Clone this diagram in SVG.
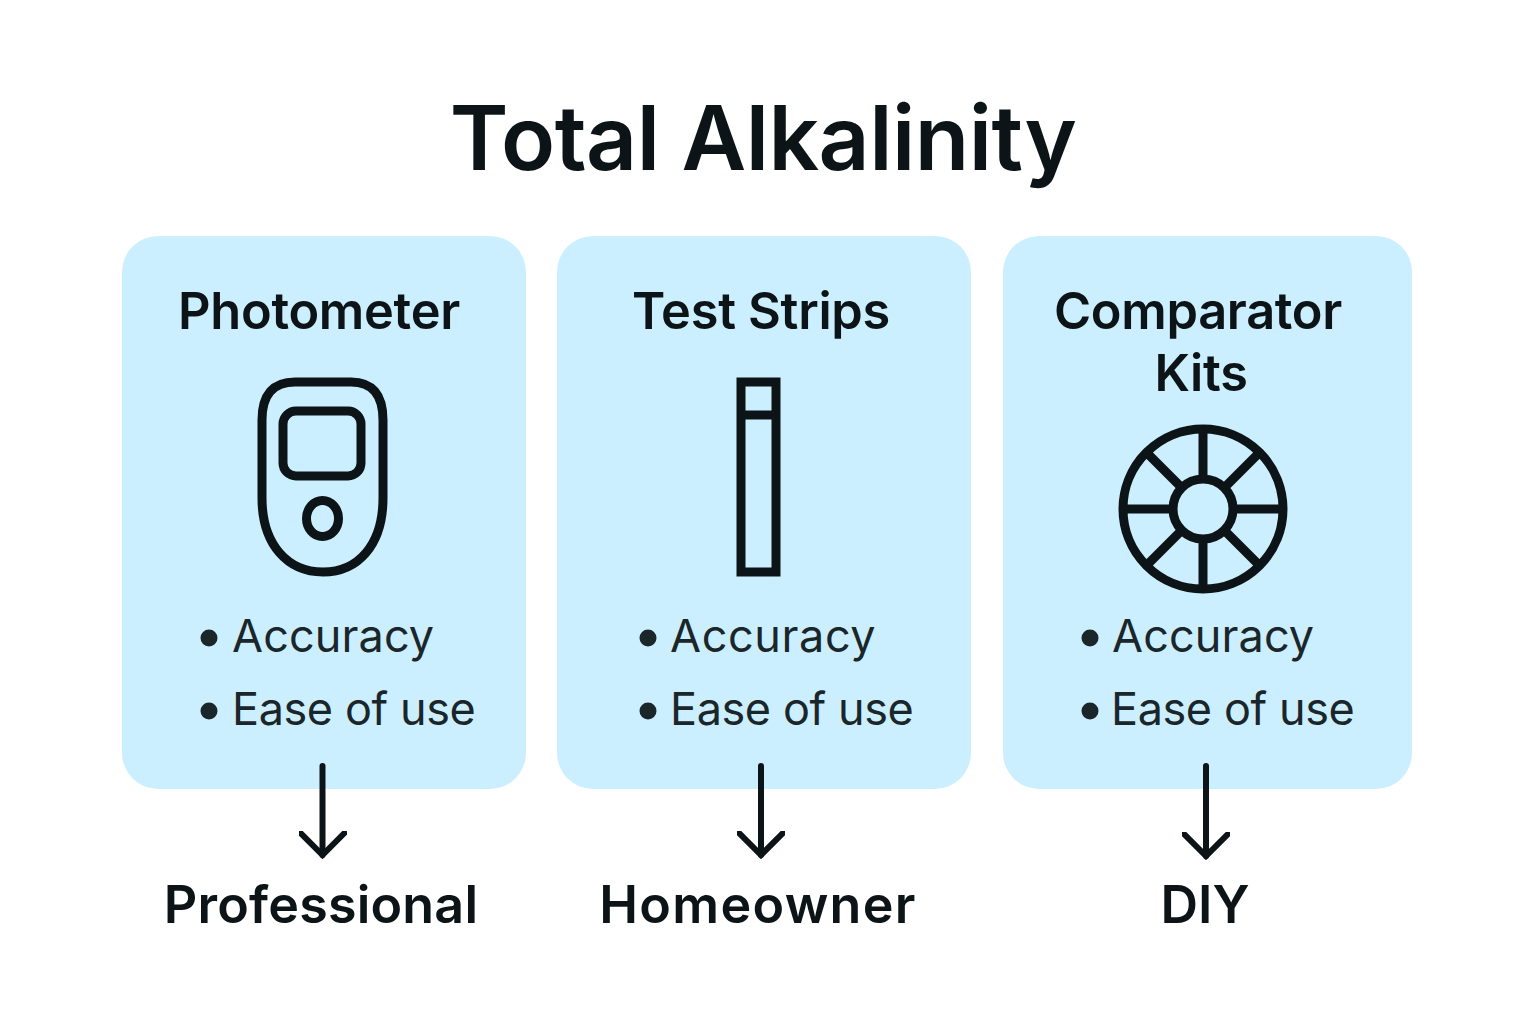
<svg xmlns="http://www.w3.org/2000/svg" width="1536" height="1024" viewBox="0 0 1536 1024">
<defs>
<marker id="head" viewBox="0 0 28 48" refX="24" refY="24" markerUnits="userSpaceOnUse" markerWidth="28" markerHeight="48" orient="auto"><path d="M2 2 L24 24 L2 46" fill="none" stroke="#0c1417" stroke-width="6" stroke-linecap="round" stroke-linejoin="miter"/></marker>
</defs>
<style>
text{font-family:Inter,"Liberation Sans",sans-serif;fill:#0c1417}
.card{fill:#ccefff}
.title{font-size:89px;font-weight:600;text-anchor:middle;letter-spacing:-0.5px}
.head{font-size:50.500px;font-weight:600;text-anchor:middle;letter-spacing:-0.3px}
.item{font-size:45px;font-weight:400;fill:#1a2629;letter-spacing:-0.4px}
.acc{letter-spacing:0.1px}
.out{font-size:52px;font-weight:600;text-anchor:middle}
.ic{fill:none;stroke:#0c1417;stroke-width:9}
.dot{fill:#1a2629}
.arrow{fill:none;stroke:#0c1417;stroke-width:6;stroke-linecap:round;marker-end:url(#head)}
</style>
<rect width="1536" height="1024" fill="#fff"/>
<text class="title" x="763" y="170">Total Alkalinity</text>
<g id="photometer">
<rect class="card" x="122" y="236" width="404" height="553" rx="36"/>
<text class="head" x="319" y="329">Photometer</text>
<path class="ic" d="M295 382 H351 Q383 382 383 420 V498 C383 545 358 572 323 572 C288 572 262 545 262 498 V420 Q262 382 295 382 Z"/>
<rect class="ic" x="283" y="411" width="78" height="65" rx="13"/>
<ellipse class="ic" cx="322.500" cy="518.500" rx="16" ry="18"/>
<circle class="dot" cx="209" cy="638" r="8.500"/><text class="item acc" x="232" y="652">Accuracy</text>
<circle class="dot" cx="209" cy="711" r="8.500"/><text class="item" x="232" y="725">Ease of use</text>
</g>
<g id="test-strips">
<rect class="card" x="557" y="236" width="414" height="553" rx="36"/>
<text class="head" x="761" y="329">Test Strips</text>
<rect class="ic" x="741" y="382" width="35" height="190"/>
<line class="ic" x1="741" y1="415" x2="776" y2="415"/>
<circle class="dot" cx="648" cy="638" r="8.500"/><text class="item acc" x="670" y="652" style="letter-spacing:0.6px">Accuracy</text>
<circle class="dot" cx="648" cy="711" r="8.500"/><text class="item" x="670" y="725">Ease of use</text>
</g>
<g id="comparator-kits">
<rect class="card" x="1003" y="236" width="409" height="553" rx="36"/>
<text class="head" x="1198" y="329">Comparator</text>
<text class="head" x="1201" y="391">Kits</text>
<circle class="ic" cx="1203" cy="509" r="80"/>
<circle class="ic" cx="1203" cy="509" r="30"/>
<path class="ic" d="M1203 429 V479 M1203 539 V589 M1123 509 H1173 M1233 509 H1283 M1146 452 L1182 488 M1224 530 L1260 566 M1260 452 L1224 488 M1182 530 L1146 566"/>
<circle class="dot" cx="1090" cy="638" r="8.500"/><text class="item acc" x="1112" y="652">Accuracy</text>
<circle class="dot" cx="1090" cy="711" r="8.500"/><text class="item" x="1111" y="725">Ease of use</text>
</g>
<g id="connectors">
<line class="arrow" x1="322.500" y1="766" x2="322.500" y2="855"/>
<line class="arrow" x1="761" y1="766" x2="761" y2="855"/>
<line class="arrow" x1="1206" y1="766" x2="1206" y2="856"/>
</g>
<g id="professional"><text class="out" x="321" y="923" style="letter-spacing:0.2px">Professional</text></g>
<g id="homeowner"><text class="out" x="758" y="923" style="letter-spacing:1.300px">Homeowner</text></g>
<g id="diy"><text class="out" x="1205" y="923">DIY</text></g>
</svg>
